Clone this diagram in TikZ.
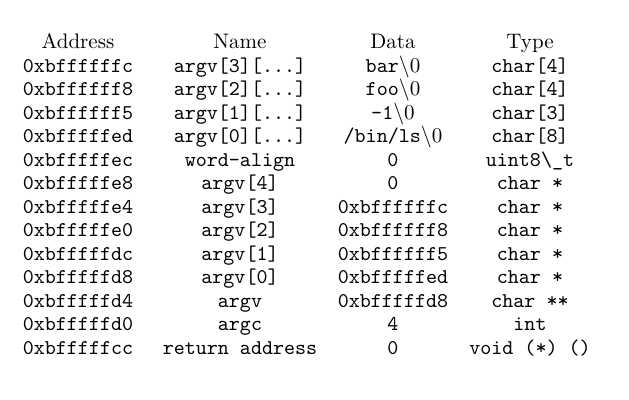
\documentclass[tikz,border=0pt]{standalone}
\begin{document}
\begin{tikzpicture}[x=0.5pt,y=-0.5pt,cell/.style={anchor=base,inner sep=0pt,font=\fontsize{10.5}{12}\selectfont\ttfamily},head/.style={anchor=base,inner sep=0pt,font=\fontsize{10.5}{12}\selectfont\rmfamily}]
\useasboundingbox (0,0) rectangle (629,400);
\node[head] (h1) at (78,49) {Address};
\node[head] (h2) at (240,49) {Name};
\node[head] (h3) at (393,49) {Data};
\node[head] (h4) at (530,49) {Type};
\def\bs{$\backslash$}
\foreach \a/\n/\d/\t [count=\i] in {
 0xbffffffc/{argv[3][...]}/{bar\bs\rmfamily 0}/{char[4]},
 0xbffffff8/{argv[2][...]}/{foo\bs\rmfamily 0}/{char[4]},
 0xbffffff5/{argv[1][...]}/{-1\bs\rmfamily 0}/{char[3]},
 0xbfffffed/{argv[0][...]}/{/bin/ls\bs\rmfamily 0}/{char[8]},
 0xbfffffec/{word-align}/0/{uint8\textbackslash\_t},
 0xbfffffe8/{argv[4]}/0/{char *},
 0xbfffffe4/{argv[3]}/0xbffffffc/{char *},
 0xbfffffe0/{argv[2]}/0xbffffff8/{char *},
 0xbfffffdc/{argv[1]}/0xbffffff5/{char *},
 0xbfffffd8/{argv[0]}/0xbfffffed/{char *},
 0xbfffffd4/{argv}/0xbfffffd8/{char **},
 0xbfffffd0/{argc}/4/{int},
 0xbfffffcc/{return address}/0/{void (*) ()}}{
 \node[cell] (a\i) at (78,49+23.5*\i) {\a};
 \node[cell] (n\i) at (240,49+23.5*\i) {\n};
 \node[cell] (d\i) at (393,49+23.5*\i) {\d};
 \node[cell] (t\i) at (530,49+23.5*\i) {\t};
}
\end{tikzpicture}
\end{document}
